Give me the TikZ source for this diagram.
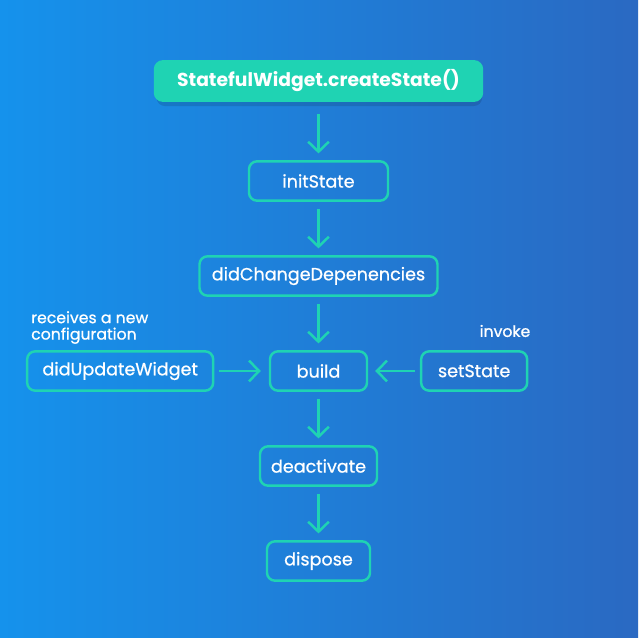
\documentclass[tikz,border=0pt]{standalone}
\usepackage{fontspec}
\setmainfont{Poppins}
\newfontfamily\boxfont{Poppins}[FakeBold=0.8]
\usepackage{xcolor}
\usetikzlibrary{positioning, calc, arrows.meta}
\definecolor{bgleft}{HTML}{1592EC}
\definecolor{bgright}{HTML}{2A69C2}
\definecolor{mint}{HTML}{1FD3B3}
\tikzset{stagebox/.style={draw=mint, line width=2.1pt, rounded corners=0.24cm,
    minimum height=1.18cm, text=white, font=\boxfont\fontsize{15}{17}\selectfont, inner sep=0pt}}
\tikzset{startbox/.style={stagebox, fill=mint, font=\bfseries\fontsize{16}{18}\selectfont}}
\tikzset{flow/.style={draw=mint, line width=2.1pt, -{Straight Barb[length=0.3cm, width=0.62cm, line width=2.1pt]},
    shorten <=0.22cm, shorten >=0.2cm}}
\tikzset{note/.style={text=white, font=\boxfont\fontsize{13.4}{14}\selectfont, inner sep=0pt}}

\begin{document}
\begin{tikzpicture}
          \shade[left color=bgleft, right color=bgright] (0,0) rectangle (19.14,-19.14);
          \useasboundingbox (0,0) rectangle (19.14,-19.14);

          \fill[black, opacity=0.12, rounded corners=0.24cm] (4.7,-1.95) rectangle (14.46,-3.18);
          \node[startbox, minimum width=9.81cm] (create) at (9.555,-2.43) {StatefulWidget.createState()};

          \node[stagebox, minimum width=4.17cm] (init) at ($(create)-(0,3)$) {initState};
          \node[stagebox, minimum width=7.14cm] (didchange) at ($(init)-(0,2.85)$) {didChangeDepenencies};
          \node[stagebox, minimum width=2.91cm] (build) at ($(didchange)-(0,2.85)$) {build};
          \node[stagebox, minimum width=5.58cm] (update) at ($(build)-(5.95,0)$) {didUpdateWidget};
          \node[stagebox, minimum width=3.18cm] (setstate) at ($(build)+(4.67,0)$) {setState};
          \node[stagebox, minimum width=3.51cm] (deact) at ($(build)-(0,2.85)$) {deactivate};
          \node[stagebox, minimum width=3.09cm] (dispose) at ($(deact)-(0,2.85)$) {dispose};

          \node[note, anchor=north west, align=left] (labelupdate) at (0.93,-9.33) {receives a new\\configuration};
          \node[note] (labelsetstate) at (15.15,-9.93) {invoke};

          \draw[flow, shorten <=0.36cm] (create) -- (init);
          \draw[flow] (init) -- (didchange);
          \draw[flow] (didchange) -- (build);
          \draw[flow] (build) -- (deact);
          \draw[flow] (deact) -- (dispose);
          \draw[flow, shorten <=0.15cm, shorten >=0.24cm] (update) -- (build);
          \draw[flow, shorten <=0.15cm, shorten >=0.21cm] (setstate) -- (build);
\end{tikzpicture}
\end{document}
